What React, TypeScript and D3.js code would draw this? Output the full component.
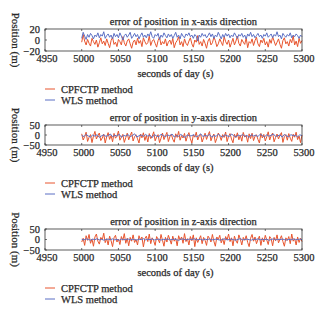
import React from "react";
import * as d3 from "d3";

const xTicks = [4950, 5000, 5050, 5100, 5150, 5200, 5250, 5300];
const seriesNames = ["CPFCTP method", "WLS method"];
const titles = [
  "error of position in x-axis direction",
  "error of position in y-axis direction",
  "error of position in z-axis direction",
];
const yTicksX = [-20, 0, 20];
const yTicksYZ = [-50, 0, 50];

const xRed = [
  -4, 10, -2, -9, 1, -6, -11, 3, -3, -8,
  0, -13, -5, 4, -7, -2, -10, 2, -6, -14,
  -1, 5, -8, -4, -12, 1, -3, -9, 6, -5,
  -11, -2, 2, -7, -15, -4, 0, -9, 3, -6,
  -1, -12, 4, -3, -8, -5, 7, -10, -2, 1,
  -6, -13, -1, 5, -9, -3, -7, 2, -11, -4,
  0, -8, 3, -14, -5, -1, 6, -9, -3, -12,
  2, -6, -10, -2, 4, -7, -13, 0, -4, 8,
  -8, -3, -11, 1, -6, -15, -2, 3, -9, -5,
  5, -1, -12, -7, 2, -4, -10, 6, -3, -8,
  0, -13, -5, 3, -9, -2, 7, -6, -11, 1,
  -4, -8, 4, -14, -3, -6, 2, -10, -1, 5,
  -7, -12, 0, -5, 3, -9, -3, -13, 1, -6,
  6, -2, -10, -4, 2, -8, -15, -1, 4, -7,
  -3, -11, 1, -5, 8, -9, -2, -12, 3, -6,
  -1,
];
const xBlue = [
  3, 14, 7, 1, 10, 5, 12, 8, 2, 9,
  6, 13, 4, 10, 7, 15, 3, 8, 11, 5,
  9, 2, 12, 6, 10, 4, 13, 7, 0, 8,
  11, 5, 9, 14, 3, 7, 12, 6, 10, 2,
  8, 13, 5, 9, 4, 11, 7, 15, 6, 3,
  10, 7, 12, 1, 9, 5, 13, 8, 4, 11,
  6, 10, 3, 8, 14, 5, 9, 2, 12, 7,
  4, 11, 8, 13, 6, 9, 3, 10, 7, -2,
  9, 5, 12, 7, 10, 4, 8, 13, 6, 11,
  3, 9, 6, 14, 8, 2, 10, 5, 12, 7,
  11, 4, 9, 6, 13, 8, 3, 10, 7, 12,
  5, 9, 2, 11, 7, 14, 6, 10, 4, 8,
  12, 6, 9, 3, 10, 7, 13, 5, 8, 11,
  4, 10, 7, 15, 6, 9, 2, 12, 8, 5,
  10, 7, 13, 4, 9, 6, 11, 8, 3, 9,
  6,
];
const yRed = [
  6, -25, -8, 14, -32, -12, 2, -38, -5, 18,
  -20, -3, 10, -28, -15, 4, -40, -9, 12, -22,
  -2, -34, 8, -16, -6, 20, -26, -11, 3, -37,
  -13, 9, -24, -4, 15, -30, -8, 1, -19, -40,
  5, -14, 11, -27, -2, -35, 7, -18, -7, 16,
  -29, -10, 2, -38, -16, 10, -23, -4, 13, -33,
  -9, 4, -21, -36, 6, -12, 18, -26, -3, -15,
  8, -31, -6, 12, -19, -40, 0, -11, 14, -25,
  -5, 3, -35, -14, 9, -22, -1, 17, -29, -8,
  5, -38, -17, 10, -4, -27, 2, -12, 15, -33,
  -7, 7, -20, -39, 4, -13, 11, -24, -2, -31,
  13, -10, -3, -36, 6, -18, 9, -28, -6, 1,
  -22, -40, 8, -15, 3, -30, -9, 16, -25, -4,
  10, -34, -12, 5, -20, -1, 12, -37, -8, 2,
  -26, 7, -16, -32, 4, -11, 14, -23, -5, -38,
  0,
];
const yBlue = [
  -2, -8, 3, -5, -10, 0, -6, 2, -12, -4,
  1, -7, -3, 5, -9, -1, -6, 4, -11, -2,
  -5, 2, -8, -3, 6, -10, -4, 0, -7, 3,
  -6, -1, -13, 2, -5, -9, 4, -3, -8, 0,
  -4, 5, -10, -2, -7, 3, -6, -12, 1, -5,
  -3, 2, -9, -4, 6, -8, -1, -6, 3, -11,
  -2, -7, 4, -5, -9, 1, -4, -8, 5, -3,
  -10, 0, -6, 3, -7, -2, -12, 2, -5, -1,
  -8, 4, -3, -9, 1, -6, -2, 5, -7, -4,
  0, -10, 3, -5, -8, 2, -4, -1, -9, 1,
  -3,
];
const zRed = [
  -12, 6, -28, 18, -4, 24, -18, 2, -32, 12,
  26, -8, -22, 10, -2, 30, -15, 4, -26, 16,
  -6, -34, 8, 20, -12, 2, -24, 14, -4, 28,
  -18, 6, -30, 10, -8, 22, -14, 0, -26, 18,
  -2, 12, -35, 4, 16, -10, 26, -20, 8, -6,
  -28, 14, 2, -16, 24, -4, -32, 10, -12, 20,
  0, -22, 16, -8, 6, -30, 18, -2, 12, -18,
  28, -10, 4, -26, 14, -6, 22, -34, 8, -14,
  2, 18, -20, 10, -4, -28, 16, 6, -12, 24,
  -8, -32, 12, 0, 20, -16, 4, -24, 14, -2,
  26, -10, 8, -30, 16, -6, -18, 22, 2, -26,
  10, -4, 18, -14, -34, 6, 24, -8, 12, -20,
  0, 16, -28, 8, -12, 20, -2, -24, 14, 4,
  -30, 10, -6, 22, -16, 2, 18, -10, -32, 8,
  -4, 14, -20, 26, -8, 4, -26, 12, -14, 6,
  -10,
];
const zBlue = [
  1, -2, 3, 0, -3, 2, -1, 4, -2, 1,
  -3, 0, 2, -1, 3, -2, 1, -4, 2, 0,
  -1, 3, -2, 1, 0, -3, 2, -1, 4, -2,
  1, -1, 3, -2, 0, 2, -3, 1, -1, 3,
  -2, 0, 2, -1, -4, 1, 3, -2, 0, 2,
  -1, 4, -2, 0, 1, -3, 2, -1, 3, -2,
  0, 2, -1, -3, 1, 3, -2, 0, 2, -1,
  -3, 1, 4, -2, 0, 2, -1, -3, 1, 0,
  3, -2, 1, -1, 2, -4, 0, 3, -2, 1,
  -1, 2, 0, -3, 1, -2, 3, -1, 0, 2,
  0,
];

const START = 5000;
const END = 5300;
const RED = "#e8552e";
const BLUE = "#5b6fc4";
const FONT = "'Liberation Serif', 'DejaVu Serif', serif";
const FS = 10.5;
const INK = "#2a2a2a";

const panels = [
  { title: titles[0], top: 29, bottom: 51, domain: [-20, 20], ticks: yTicksX, red: xRed, blue: xBlue },
  { title: titles[1], top: 125, bottom: 145, domain: [-50, 50], ticks: yTicksYZ, red: yRed, blue: yBlue },
  { title: titles[2], top: 229, bottom: 250, domain: [-50, 50], ticks: yTicksYZ, red: zRed, blue: zBlue },
];

const LEFT = 45;
const RIGHT = 302;

const fmt = (t: number) => (t < 0 ? "\u2212" + Math.abs(t) : String(t));

function Panel({ p }: { p: typeof panels[number] }) {
  const x = d3.scaleLinear().domain([4950, 5300]).range([LEFT, RIGHT]);
  const y = d3.scaleLinear().domain(p.domain).range([p.bottom, p.top]);
  const makeLine = (vals: number[]) => {
    const step = (END - START) / (vals.length - 1);
    return (
      d3
        .line<number>()
        .x((_, i) => x(START + i * step))
        .y((d) => y(d))(vals) || ""
    );
  };
  const midY = (p.top + p.bottom) / 2;
  const textProps = { fontSize: FS, fill: INK, stroke: INK, strokeWidth: 0.25 };
  return (
    <g>
      <text x={(LEFT + RIGHT) / 2 + 10} y={p.top - 4} textAnchor="middle" {...textProps}>
        {p.title}
      </text>
      <text
        transform={`translate(15,${midY}) rotate(90)`}
        textAnchor="middle"
        dominantBaseline="middle"
        {...textProps}
        fontSize={11}
      >
        Position (m)
      </text>
      <path d={makeLine(p.red)} fill="none" stroke={RED} strokeWidth={1} />
      <path d={makeLine(p.blue)} fill="none" stroke={BLUE} strokeWidth={1} />
      <rect x={LEFT} y={p.top} width={RIGHT - LEFT} height={p.bottom - p.top} fill="none" stroke="#333" strokeWidth={0.8} />
      {xTicks.map((t) => (
        <g key={t}>
          <line x1={x(t)} x2={x(t)} y1={p.bottom} y2={p.bottom - 2} stroke="#333" strokeWidth={0.7} />
          <line x1={x(t)} x2={x(t)} y1={p.top} y2={p.top + 2} stroke="#333" strokeWidth={0.7} />
          <text x={x(t) + 2} y={p.bottom + 11} textAnchor="middle" {...textProps}>
            {t}
          </text>
        </g>
      ))}
      {p.ticks.map((t) => (
        <g key={t}>
          <line x1={LEFT} x2={LEFT + 2} y1={y(t)} y2={y(t)} stroke="#333" strokeWidth={0.7} />
          <text x={40} y={y(t)} textAnchor="end" dominantBaseline="central" {...textProps}>
            {fmt(t)}
          </text>
        </g>
      ))}
      <text x={(LEFT + RIGHT) / 2 + 2} y={p.bottom + 26} textAnchor="middle" {...textProps}>
        seconds of day (s)
      </text>
      {seriesNames.map((n, i) => (
        <g key={n}>
          <line x1={45} x2={55} y1={p.bottom + 38 + i * 11} y2={p.bottom + 38 + i * 11} stroke={i === 0 ? RED : BLUE} strokeWidth={1} />
          <text x={61} y={p.bottom + 38 + i * 11} dominantBaseline="central" {...textProps}>
            {n}
          </text>
        </g>
      ))}
    </g>
  );
}

export default function App() {
  return (
    <svg
      width={320}
      height={320}
      style={{ position: "absolute", left: 0, top: 0, background: "#fff" }}
      fontFamily={FONT}
    >
      <rect width={320} height={320} fill="#fff" />
      {panels.map((p, i) => (
        <Panel key={i} p={p} />
      ))}
    </svg>
  );
}
